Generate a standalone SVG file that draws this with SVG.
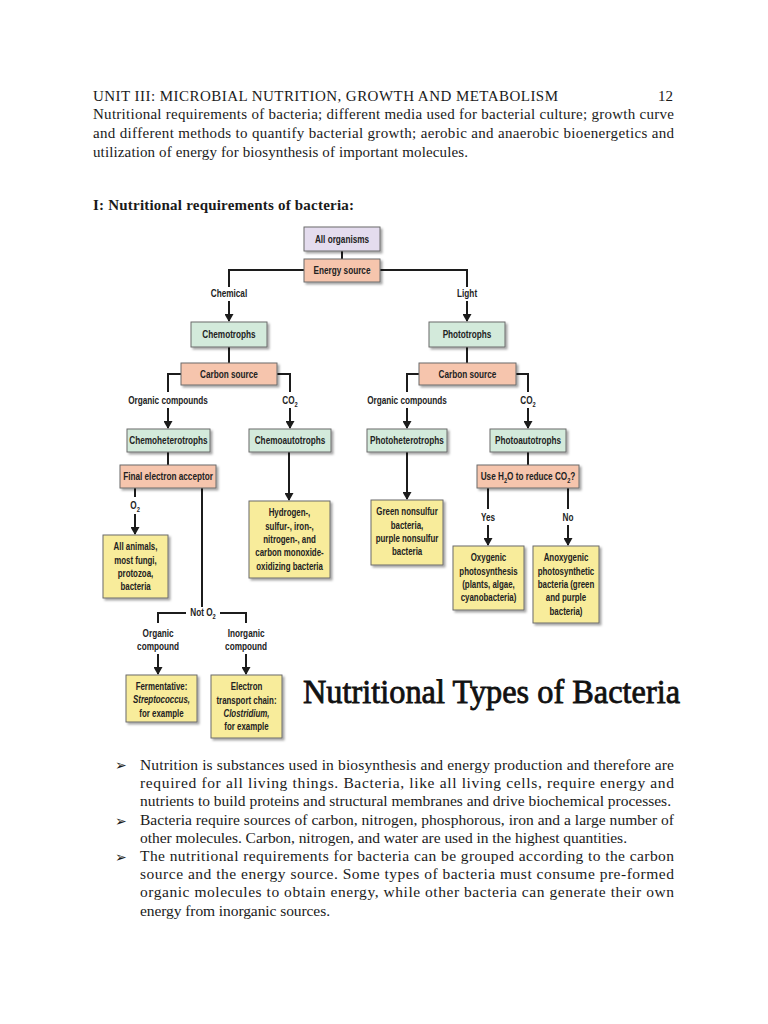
<svg xmlns="http://www.w3.org/2000/svg" width="768" height="1024" viewBox="0 0 768 1024">
<style>
.doc{font-family:"Liberation Serif","Times New Roman",serif;font-size:15px;fill:#1a1a1a}
.bt{font-family:"Liberation Serif","Times New Roman",serif;font-size:15.5px;fill:#1a1a1a}
.bul{font-family:"DejaVu Sans",sans-serif;font-size:14px;fill:#1a1a1a}
.box{stroke:#6b6b6b;stroke-width:1;filter:url(#sh)}
.pu{fill:#e4dcee}.sa{fill:#f6c5ad}.gr{fill:#d3eadb}.ye{fill:#f8ec9b}
.t,.ty{font-family:"Liberation Sans","Arial",sans-serif;font-weight:bold;fill:#222;text-anchor:middle;transform-box:fill-box;transform-origin:center;transform:scaleX(0.76)}
.t{font-size:10.8px}
.ty{font-size:10.4px}
.ln{fill:none;stroke:#1c1c1c;stroke-width:2}
.ar{fill:none;stroke:#1c1c1c;stroke-width:2;marker-end:url(#ah)}
.title{font-family:"Liberation Serif","Times New Roman",serif;font-size:34px;fill:#111;stroke:#111;stroke-width:0.8}
</style>
<defs>
<filter id="sh" x="-10%" y="-10%" width="130%" height="140%"><feDropShadow dx="2" dy="2" stdDeviation="0.8" flood-color="#000" flood-opacity="0.35"/></filter>
<marker id="ah" markerUnits="userSpaceOnUse" markerWidth="8" markerHeight="9" refX="7" refY="4.5" orient="auto"><path d="M0,0 L8,4.5 L0,9 z" fill="#1c1c1c"/></marker>
</defs>
<rect width="768" height="1024" fill="#fff"/>

<g id="page-text">
<text class="doc" x="93" y="101" textLength="465" lengthAdjust="spacing">UNIT III: MICROBIAL NUTRITION, GROWTH AND METABOLISM</text>
<text class="doc" x="673" y="101" text-anchor="end">12</text>
<text class="doc" x="93" y="119" textLength="581" lengthAdjust="spacing">Nutritional requirements of bacteria; different media used for bacterial culture; growth curve</text>
<text class="doc" x="93" y="138" textLength="581" lengthAdjust="spacing">and different methods to quantify bacterial growth; aerobic and anaerobic bioenergetics and</text>
<text class="doc" x="93" y="157" textLength="375" lengthAdjust="spacing">utilization of energy for biosynthesis of important molecules.</text>
<text class="doc" x="93" y="210" font-weight="bold" textLength="261" lengthAdjust="spacing">I: Nutritional requirements of bacteria:</text>
</g>

<g id="connectors">
<line class="ln" x1="342" y1="251" x2="342" y2="259"/>
<polyline class="ln" points="304,270 229,270 229,287"/>
<line class="ar" x1="229" y1="301" x2="229" y2="321"/>
<polyline class="ln" points="380,270 467,270 467,287"/>
<line class="ar" x1="467" y1="301" x2="467" y2="321"/>
<line class="ln" x1="229" y1="347" x2="229" y2="363"/>
<line class="ln" x1="467" y1="347" x2="467" y2="363"/>
<polyline class="ln" points="181,374 168,374 168,392"/>
<line class="ar" x1="168" y1="408" x2="168" y2="428"/>
<polyline class="ln" points="277,374 290,374 290,392"/>
<line class="ar" x1="290" y1="408" x2="290" y2="428"/>
<polyline class="ln" points="419,374 407,374 407,392"/>
<line class="ar" x1="407" y1="408" x2="407" y2="428"/>
<polyline class="ln" points="516,374 528,374 528,392"/>
<line class="ar" x1="528" y1="408" x2="528" y2="428"/>
<line class="ln" x1="168" y1="452" x2="168" y2="465"/>
<line class="ln" x1="135" y1="488" x2="135" y2="497"/>
<line class="ar" x1="135" y1="514" x2="135" y2="534"/>
<line class="ln" x1="202" y1="488" x2="202" y2="607"/>
<polyline class="ln" points="186,613 158,613 158,623"/>
<polyline class="ln" points="220,613 246,613 246,623"/>
<line class="ar" x1="158" y1="654" x2="158" y2="674"/>
<line class="ar" x1="246" y1="654" x2="246" y2="674"/>
<line class="ar" x1="289" y1="452" x2="289" y2="500"/>
<line class="ar" x1="407" y1="452" x2="407" y2="499"/>
<line class="ln" x1="528" y1="452" x2="528" y2="465"/>
<line class="ln" x1="488" y1="488" x2="488" y2="509"/>
<line class="ar" x1="488" y1="525" x2="488" y2="545"/>
<line class="ln" x1="568" y1="488" x2="568" y2="509"/>
<line class="ar" x1="568" y1="525" x2="568" y2="545"/>
<text class="t" x="229" y="297">Chemical</text>
<text class="t" x="467" y="297">Light</text>
<text class="t" x="168" y="404">Organic compounds</text>
<text class="t" x="290" y="404">CO<tspan font-size="7.5" dy="3">2</tspan></text>
<text class="t" x="407" y="404">Organic compounds</text>
<text class="t" x="528" y="404">CO<tspan font-size="7.5" dy="3">2</tspan></text>
<text class="t" x="135" y="509">O<tspan font-size="7.5" dy="3">2</tspan></text>
<text class="t" x="203" y="616">Not O<tspan font-size="7.5" dy="3">2</tspan></text>
<text class="t" x="158" y="637">Organic</text>
<text class="t" x="158" y="650">compound</text>
<text class="t" x="246" y="637">Inorganic</text>
<text class="t" x="246" y="650">compound</text>
<text class="t" x="488" y="521">Yes</text>
<text class="t" x="568" y="521">No</text>
</g>

<g id="n-all"><rect class="box pu" x="304" y="227" width="76" height="24"/><text class="t" x="342" y="243">All organisms</text></g>
<g id="n-energy"><rect class="box sa" x="304" y="259" width="76" height="23"/><text class="t" x="342" y="274.5">Energy source</text></g>
<g id="n-chemotrophs"><rect class="box gr" x="191" y="322" width="76" height="25"/><text class="t" x="229" y="338.5">Chemotrophs</text></g>
<g id="n-phototrophs"><rect class="box gr" x="429" y="322" width="76" height="25"/><text class="t" x="467" y="338.5">Phototrophs</text></g>
<g id="n-carbon1"><rect class="box sa" x="181" y="363" width="96" height="22"/><text class="t" x="229" y="378">Carbon source</text></g>
<g id="n-carbon2"><rect class="box sa" x="419" y="363" width="97" height="22"/><text class="t" x="467.5" y="378">Carbon source</text></g>
<g id="n-chemohet"><rect class="box gr" x="127" y="429" width="83" height="23"/><text class="t" x="168.5" y="444.5">Chemoheterotrophs</text></g>
<g id="n-chemoauto"><rect class="box gr" x="249" y="429" width="82" height="23"/><text class="t" x="290" y="444.5">Chemoautotrophs</text></g>
<g id="n-photohet"><rect class="box gr" x="367" y="429" width="80" height="23"/><text class="t" x="407" y="444.5">Photoheterotrophs</text></g>
<g id="n-photoauto"><rect class="box gr" x="490" y="429" width="76" height="23"/><text class="t" x="528" y="444.5">Photoautotrophs</text></g>
<g id="n-fea"><rect class="box sa" x="120" y="465" width="96" height="23"/><text class="t" x="168" y="480.5">Final electron acceptor</text></g>
<g id="n-useh2o"><rect class="box sa" x="477" y="465" width="102" height="23"/><text class="t" x="528" y="480">Use H<tspan font-size="7.5" dy="3">2</tspan><tspan dy="-3">O to reduce CO</tspan><tspan font-size="7.5" dy="3">2</tspan><tspan dy="-3">?</tspan></text></g>
<g id="n-allanimals"><rect class="box ye" x="103" y="535" width="65" height="63"/><text class="ty" x="135.5" y="550.5">All animals,</text><text class="ty" x="135.5" y="563.8">most fungi,</text><text class="ty" x="135.5" y="577.1">protozoa,</text><text class="ty" x="135.5" y="590.4">bacteria</text></g>
<g id="n-hydrogen"><rect class="box ye" x="249" y="501" width="81" height="77"/><text class="ty" x="289.5" y="516.5">Hydrogen-,</text><text class="ty" x="289.5" y="529.8">sulfur-, iron-,</text><text class="ty" x="289.5" y="543.1">nitrogen-, and</text><text class="ty" x="289.5" y="556.4">carbon monoxide-</text><text class="ty" x="289.5" y="569.7">oxidizing bacteria</text></g>
<g id="n-greennon"><rect class="box ye" x="371" y="500" width="72" height="65"/><text class="ty" x="407" y="515.5">Green nonsulfur</text><text class="ty" x="407" y="528.8">bacteria,</text><text class="ty" x="407" y="542.1">purple nonsulfur</text><text class="ty" x="407" y="555.4">bacteria</text></g>
<g id="n-oxygenic"><rect class="box ye" x="453" y="546" width="71" height="64"/><text class="ty" x="488.5" y="561.5">Oxygenic</text><text class="ty" x="488.5" y="574.8">photosynthesis</text><text class="ty" x="488.5" y="588.1">(plants, algae,</text><text class="ty" x="488.5" y="601.4">cyanobacteria)</text></g>
<g id="n-anoxygenic"><rect class="box ye" x="533" y="546" width="66" height="77"/><text class="ty" x="566" y="561.5">Anoxygenic</text><text class="ty" x="566" y="574.8">photosynthetic</text><text class="ty" x="566" y="588.1">bacteria (green</text><text class="ty" x="566" y="601.4">and purple</text><text class="ty" x="566" y="614.7">bacteria)</text></g>
<g id="n-fermentative"><rect class="box ye" x="126" y="675" width="71" height="47"/><text class="ty" x="161.5" y="690">Fermentative:</text><text class="ty" x="161.5" y="703.3" font-style="italic">Streptococcus,</text><text class="ty" x="161.5" y="716.6">for example</text></g>
<g id="n-electron"><rect class="box ye" x="211" y="675" width="71" height="63"/><text class="ty" x="246.5" y="690.5">Electron</text><text class="ty" x="246.5" y="703.8">transport chain:</text><text class="ty" x="246.5" y="717.1" font-style="italic">Clostridium,</text><text class="ty" x="246.5" y="730.4">for example</text></g>

<text class="title" x="303" y="703" textLength="377" lengthAdjust="spacingAndGlyphs">Nutritional Types of Bacteria</text>

<g id="bullets">
<text class="bul" x="115" y="770">➢</text>
<text class="bul" x="115" y="825.6">➢</text>
<text class="bul" x="115" y="862">➢</text>
<text class="bt" x="140" y="770" textLength="534" lengthAdjust="spacing">Nutrition is substances used in biosynthesis and energy production and therefore are</text>
<text class="bt" x="140" y="788.2" textLength="534" lengthAdjust="spacing">required for all living things. Bacteria, like all living cells, require energy and</text>
<text class="bt" x="140" y="806.4" textLength="531" lengthAdjust="spacing">nutrients to build proteins and structural membranes and drive biochemical processes.</text>
<text class="bt" x="140" y="824.6" textLength="534" lengthAdjust="spacing">Bacteria require sources of carbon, nitrogen, phosphorous, iron and a large number of</text>
<text class="bt" x="140" y="842.8" textLength="487" lengthAdjust="spacing">other molecules. Carbon, nitrogen, and water are used in the highest quantities.</text>
<text class="bt" x="140" y="861" textLength="534" lengthAdjust="spacing">The nutritional requirements for bacteria can be grouped according to the carbon</text>
<text class="bt" x="140" y="879.2" textLength="534" lengthAdjust="spacing">source and the energy source. Some types of bacteria must consume pre-formed</text>
<text class="bt" x="140" y="897.4" textLength="534" lengthAdjust="spacing">organic molecules to obtain energy, while other bacteria can generate their own</text>
<text class="bt" x="140" y="915.6" textLength="190" lengthAdjust="spacing">energy from inorganic sources.</text>
</g>
</svg>
